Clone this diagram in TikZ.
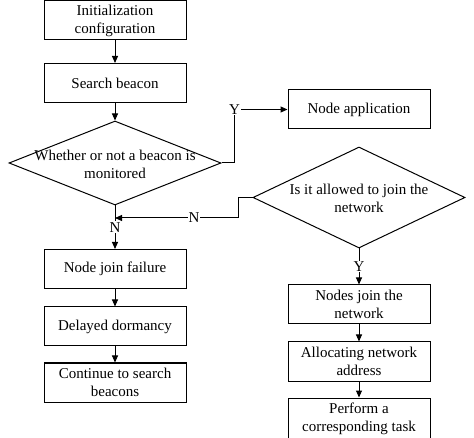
\documentclass[tikz,border=0pt]{standalone}
\usepackage{fontspec}
\setmainfont{Liberation Serif}
\usetikzlibrary{arrows,arrows.meta,shapes.geometric,calc}

\begin{document}
\begin{tikzpicture}[x=1pt, y=-1pt, align=center, >={Triangle[length=7pt,width=6pt]},
  every path/.style={line width=1pt},
  every node/.style={font=\fontsize{15}{18}\selectfont},
  box/.style={draw, rectangle, minimum width=142pt, minimum height=39pt, inner sep=0pt},
  decision/.style={draw, diamond, minimum width=212pt, inner sep=0pt},
  tag/.style={fill=white, inner sep=1pt}]
\useasboundingbox (0,0) rectangle (474,438);

\node (init) [box] at (115,20.5) {Initialization\\configuration};
\node (search) [box] at (115,83) {Search beacon};
\node (monitor) [decision, minimum height=84pt] at (115,163) {};
\node (monitorText) at (115,164) {Whether or not a beacon is\\monitored};
\node (fail) [box] at (115,269) {Node join failure};
\node (delay) [box] at (115,326.5) {Delayed dormancy};
\node (cont) [box] at (115,382.5) {Continue to search\\beacons};

% -------------------------------

\node (app) [box] at (359,109.5) {Node application};
\node (allow) [decision, minimum height=101pt] at (359,197.5) {};
\node (allowText) at (359,198.5) {Is it allowed to join the\\network};
\node (join) [box] at (359,304.5) {Nodes join the\\network};
\node (addr) [box] at (359,361.5) {Allocating network\\address};
\node (task) [box, minimum height=42pt] at (359,419) {Perform a\\corresponding task};

\path (app.west) ++(-53,0) coordinate (yesTurn);
\coordinate (noTurn) at (115,218);

\draw[->] (init) -- (search);
\draw[->] (search) -- (monitor);
\draw[->] (monitor.east) -| (yesTurn) node[tag] {Y} -- (app.west);
\draw[->] (allow.west) -- ++(-14,0) |- (noTurn) node[tag, pos=0.68] {N};
\draw[->] (monitor.south) -- (fail.north) node[tag, midway] {N};
\draw[->] (fail) -- (delay);
\draw[->] (delay) -- (cont);
\draw[->] (allow.south) -- (join.north) node[tag, midway] {Y};
\draw[->] (join) -- (addr);
\draw[->] (addr) -- (task);
\end{tikzpicture}
\end{document}
